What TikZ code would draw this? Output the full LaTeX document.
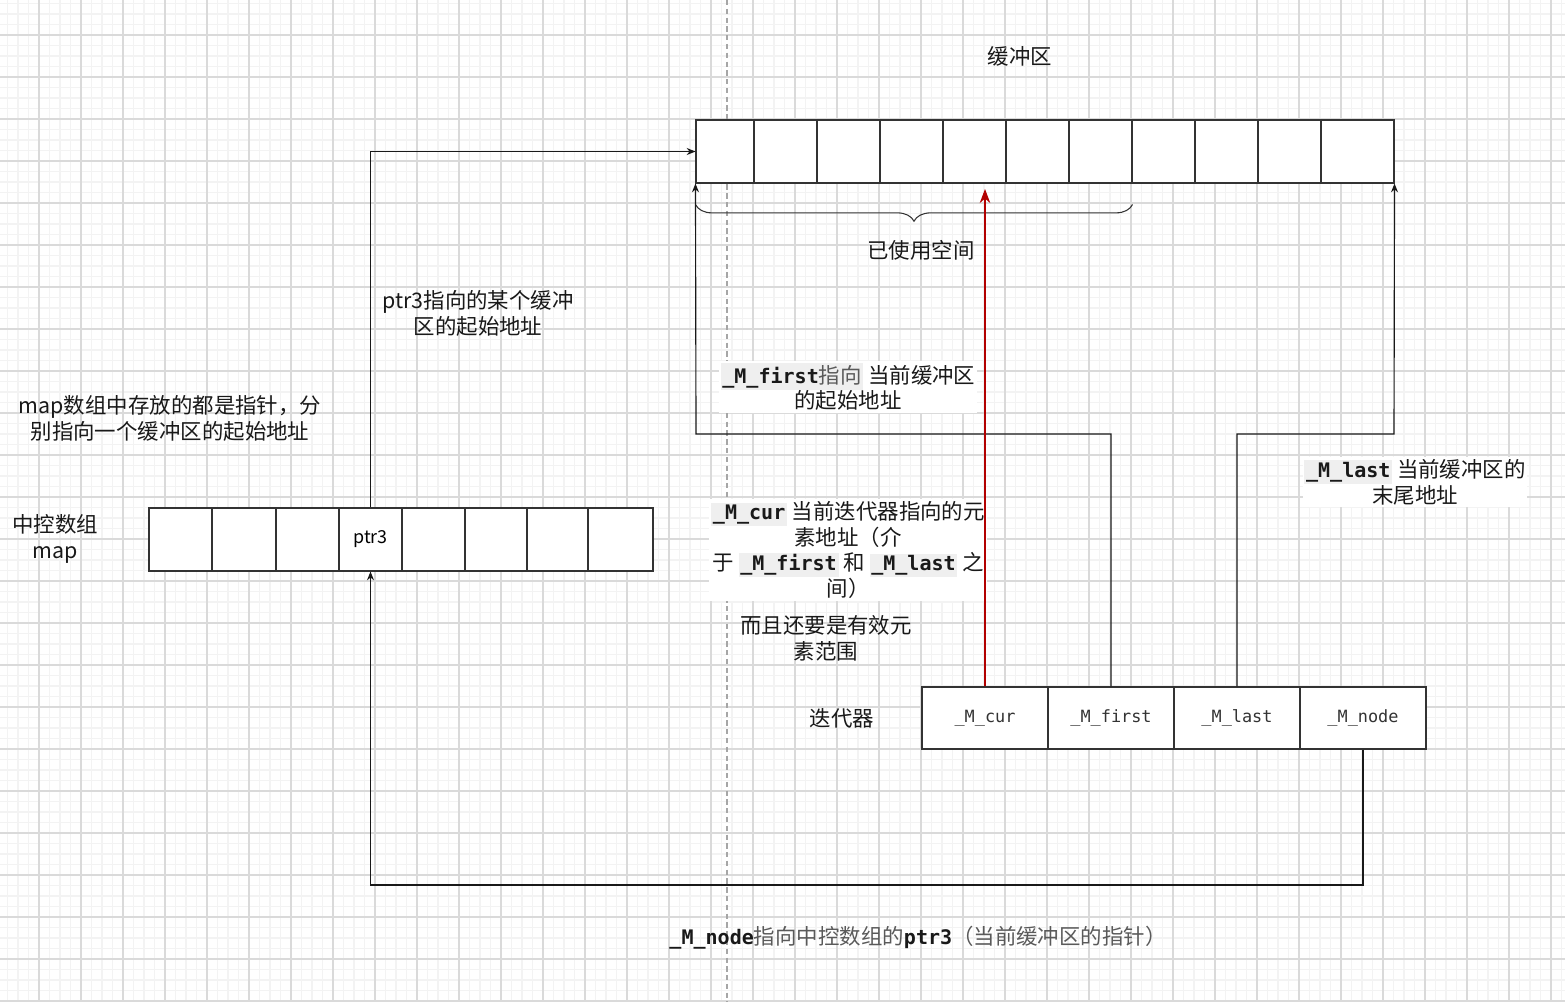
\documentclass[tikz,border=0pt]{standalone}
\usepackage{fontspec}
\setmainfont{Noto Sans CJK SC}
\setmonofont{DejaVu Sans Mono}
\usepackage{tikz}
\usetikzlibrary{arrows.meta, decorations.pathreplacing}
\definecolor{gridmajor}{HTML}{DADADA}
\definecolor{gridminor}{HTML}{F3F3F3}
\definecolor{cellline}{HTML}{333333}
\definecolor{curred}{HTML}{B20000}
\definecolor{codebg}{HTML}{EFEFEF}
\definecolor{notegray}{HTML}{5A5A5A}
\newcommand{\codefont}{\fontsize{11.4}{14.7}\selectfont\ttfamily\bfseries}
\newcommand{\hlcode}[2][]{{\setlength{\fboxsep}{1pt}\colorbox{codebg}{{\codefont #2}\textcolor{notegray}{#1}}}}

\begin{document}
\begin{tikzpicture}[x=0.02cm, y=-0.02cm, font=\fontsize{12.2}{14.7}\selectfont,
  cell/.style={draw=cellline, line width=0.6pt, fill=white, inner sep=0pt, minimum height=1.26cm, font=\fontsize{10.2}{12}\selectfont},
  itcell/.style={cell, minimum width=2.52cm, minimum height=1.24cm, text=cellline, font=\fontsize{9.6}{12}\selectfont\ttfamily},
  txt/.style={align=center, inner sep=1pt, text=black!90},
  ptr/.style={draw=black!90, line width=0.65pt, -{Stealth[length=5pt,width=4pt]}},
  curptr/.style={draw=curred, line width=0.6pt, -{Stealth[length=8pt,width=6pt]}},
  usedbrace/.style={draw=cellline, line width=0.6pt, decorate, decoration={brace, mirror, amplitude=9.5pt}}]
\useasboundingbox (0,0) rectangle (1565,1002);
\fill[white] (0,0) rectangle (1565,1002);
\foreach \i in {0,...,148} \draw[gridminor, line width=0.6pt] ({7.5+10.5*\i},0) -- ({7.5+10.5*\i},1002);
\foreach \j in {0,...,95} \draw[gridminor, line width=0.6pt] (0,{3.5+10.5*\j}) -- (1565,{3.5+10.5*\j});
\foreach \i in {0,...,36} \draw[gridmajor, line width=0.6pt] ({39+42*\i},0) -- ({39+42*\i},1002);
\foreach \j in {0,...,23} \draw[gridmajor, line width=0.6pt] (0,{35+42*\j}) -- (1565,{35+42*\j});
\draw[black!35, line width=0.6pt, dash pattern=on 3pt off 2pt] (727,0) -- (727,1002);

\foreach \a/\b [count=\i] in {696/754,754/817,817/880,880/943,943/1006,1006/1069,1069/1132,1132/1195,1195/1258,1258/1321,1321/1394}
  \node[cell, minimum width={(\b-\a)*0.02cm}] (b\i) at ({(\a+\b)/2},151.5) {};
\foreach \a/\b/\t [count=\i] in {149/212/{},212/276/{},276/339/{},339/402/ptr3,402/465/{},465/527/{},527/588/{},588/653/{}}
  \node[cell, minimum width={(\b-\a)*0.02cm}] (m\i) at ({(\a+\b)/2},539.5) {\t};
\foreach \a/\t [count=\i] in {922/\_M\_cur,1048/\_M\_first,1174/\_M\_last,1300/\_M\_node}
  \node[itcell] (it\i) at ({\a+63},718) {\t};

\node[txt] (buftitle) at (1020,56) {缓冲区};
\node[txt] (usedlbl) at (921,250) {已使用空间};
\node[txt] (ptrlbl) at (478,313) {ptr3指向的某个缓冲\\区的起始地址};
\node[txt] (maplbl) at (170,418) {map数组中存放的都是指针，分\\别指向一个缓冲区的起始地址};
\node[txt] (mapname) at (55,539) {中控数组\\map};
\node[txt, fill=white] (firstlbl) at (848,387) {\hlcode[指向]{\_M\_first} 当前缓冲区\\的起始地址};
\node[txt, fill=white] (lastlbl) at (1415,482) {\hlcode{\_M\_last} 当前缓冲区的\\末尾地址};
\node[txt, fill=white] (curlbl) at (848,550) {\hlcode{\_M\_cur} 当前迭代器指向的元\\素地址（介\\于 \hlcode{\_M\_first} 和 \hlcode{\_M\_last} 之\\间）};
\node[txt] (validlbl) at (826,638) {而且还要是有效元\\素范围};
\node[txt] (itername) at (842,718) {迭代器};
\node[txt] (nodelbl) at (918,938) {{\codefont\_M\_node}\textcolor{notegray}{指向中控数组的}{\codefont ptr3}\textcolor{notegray}{（当前缓冲区的指针）}};

\coordinate (curtip) at (985,189);
\coordinate (firstbend) at (696,434);
\coordinate (lastbend) at (1394,434);
\coordinate (nodebend) at (370.5,885);

\draw[usedbrace] ([yshift=-0.42cm]b1.south west) -- ([yshift=-0.42cm]b7.south east);
\draw[ptr] (m4.north) |- (b1.west);
\draw[ptr] (it2.north) |- (firstbend) -- (b1.south west);
\draw[ptr] (it3.north) |- (lastbend) -- (b11.south east);
\draw[ptr] (it4.south) |- (nodebend) -- (m4.south);
\draw[curptr] (it1.north) -- (curtip);
\end{tikzpicture}
\end{document}
